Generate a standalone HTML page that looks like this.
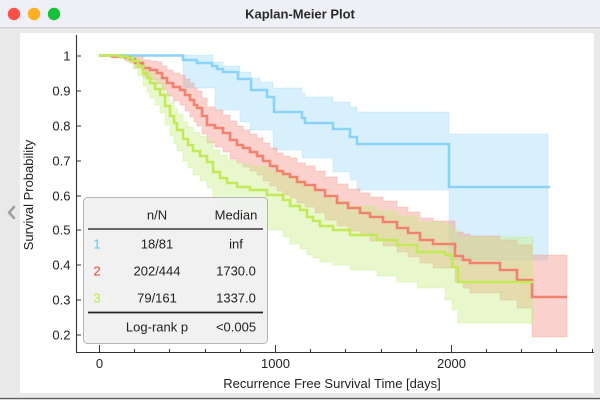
<!DOCTYPE html>
<html>
<head>
<meta charset="utf-8">
<style>
html,body{margin:0;padding:0;background:#ececec;}
svg{display:block;}
text{font-family:"Liberation Sans",Arial,sans-serif;}
</style>
</head>
<body>
<svg width="600" height="400" viewBox="0 0 600 400" xmlns="http://www.w3.org/2000/svg">
  <!-- window -->
  <rect x="0" y="0" width="600" height="400" fill="#e9e9e9"/>
  <rect x="0" y="0" width="600" height="27.5" fill="#eef0f5"/>
  <line x1="0" y1="27.8" x2="600" y2="27.8" stroke="#c6c6c6" stroke-width="1"/>
  <circle cx="14" cy="14" r="6.2" fill="#fe4f49"/>
  <circle cx="34" cy="14" r="6.2" fill="#fdb023"/>
  <circle cx="54" cy="14" r="6.2" fill="#17c139"/>
  <text x="300" y="18.5" text-anchor="middle" font-size="13" font-weight="bold" fill="#2a2a2a">Kaplan-Meier Plot</text>

  <!-- white panel -->
  <rect x="20" y="33" width="574" height="360" fill="#ffffff"/>
  <line x1="0" y1="398.5" x2="600" y2="398.5" stroke="#5a5a5a" stroke-width="1.2"/>

  <!-- left chevron -->
  <polyline points="14,207 9,212.5 14,218" fill="none" stroke="#a0a0a0" stroke-width="2.6" stroke-linecap="round" stroke-linejoin="round"/>

  <!-- bands -->
  <path d="M99,55 H213 V62 H223 V66 H240 V72 H251 V78 H260 V82 H273 V88 H302 V93 H305 V97 H333 V102 H350 V107 H357 V112 H449 V134 H548 V260 H449 V190 H357 V180 H350 V172 H333 V158 H302 V150 H273 V130 H250 V122 H240 V110 H215 V88 H183 V56 H99 Z" fill="#8fd3f7" fill-opacity="0.35" stroke="#8fd3f7" stroke-opacity="0.25" stroke-width="1"/>

  <path d="M99,55 H112 V54.5 H125 V54.5 H130 V54.5 H135 V56 H143 V60 H150 V61 H157 V62 H162 V66 H167 V70 H173 V73 H180 V75 H185 V79 H190 V83 H194 V88 H197 V91 H202 V98 H207 V107 H215 V110 H223 V115 H230 V121 H237 V126 H243 V130 H250 V134 H257 V138 H263 V143 H270 V148 H277 V153 H283 V156 H290 V158 H297 V163 H305 V166 H315 V171 H325 V177 H337 V184 H348 V189 H360 V193 H370 V197 H383 V201 H397 V207 H408 V212 H420 V218 H433 V221 H455 V232 H463 V234 H470 V236 H500 V240 H517 V245 H532 V255 H567 V337 H532 V308 H517 V300 H500 V293 H470 V288 H463 V282 H455 V268 H433 V263 H420 V257 H408 V252 H397 V246 H383 V241 H370 V236 H360 V231 H348 V226 H337 V220 H325 V213 H315 V207 H305 V203 H297 V198 H290 V195 H283 V191 H277 V186 H270 V181 H263 V175 H257 V171 H250 V167 H243 V163 H237 V159 H230 V152 H223 V147 H215 V143 H207 V134 H202 V126 H197 V122 H194 V117 H190 V111 H185 V105 H180 V101 H173 V96 H167 V90 H162 V84 H157 V80 H150 V77 H143 V68 H135 V63 H130 V61 H125 V58 H112 V56 H99 Z" fill="#f39a90" fill-opacity="0.45" stroke="#f39a90" stroke-opacity="0.35" stroke-width="1"/>

  <path d="M99,55 H120 V55.5 H128 V56 H133 V57 H138 V60 H143 V65 H147 V69 H150 V73 H155 V78 H160 V83 H165 V93 H170 V102 H174 V108 H177 V114 H183 V122 H188 V127 H193 V132 H200 V136 H207 V141 H213 V150 H220 V155 H227 V160 H237 V164 H250 V166 H267 V170 H283 V174 H290 V179 H300 V182 H307 V188 H313 V192 H320 V197 H333 V201 H350 V206 H377 V211 H397 V216 H417 V222 H445 V225 H452 V230 H458 V237 H533 V323 H458 V310 H452 V300 H445 V288 H417 V282 H397 V276 H377 V270 H350 V265 H333 V262 H320 V258 H313 V255 H307 V249 H300 V244 H290 V237 H283 V230 H267 V222 H250 V214 H237 V209 H227 V204 H220 V198 H213 V188 H207 V181 H200 V175 H193 V168 H188 V161 H183 V151 H177 V144 H174 V136 H170 V125 H165 V113 H160 V105 H155 V98 H150 V92 H147 V86 H143 V76 H138 V69 H133 V63 H128 V58.5 H120 V56 H99 Z" fill="#c6ee80" fill-opacity="0.4" stroke="#c6ee80" stroke-opacity="0.35" stroke-width="1"/>

  <!-- lines -->
  <path d="M99,55.5 H183 V60 H197 V63 H212 V66 H217 V69 H223 V72 H238 V79 H251 V90 H267 V97 H274 V112 H302 V118 H305 V123 H333 V129 H350 V137 H357 V144 H449 V187 H550" fill="none" stroke="#8ad3f7" stroke-width="2.6"/>
  <path d="M99,55.5 H112 V56.5 H125 V57.5 H130 V59 H135 V63 H143 V68 H150 V70 H157 V73 H162 V78 H167 V83 H173 V87 H180 V90 H185 V95 H190 V100 H194 V105 H197 V108 H202 V116 H207 V125 H215 V128 H223 V133 H230 V140 H237 V145 H243 V148 H250 V152 H257 V156 H263 V161 H270 V166 H277 V171 H283 V174 H290 V177 H297 V182 H305 V185 H315 V190 H325 V196 H337 V203 H348 V208 H360 V213 H370 V217 H383 V222 H397 V228 H408 V233 H420 V240 H433 V244 H455 V256 H463 V260 H470 V263 H500 V270 H517 V280 H532 V297 H567" fill="none" stroke="#f0826e" stroke-width="2.6"/>
  <path d="M99,55.5 H120 V56.5 H128 V58 H133 V61 H138 V66 H143 V73 H147 V78 H150 V83 H155 V89 H160 V95 H165 V106 H170 V116 H174 V123 H177 V130 H183 V139 H188 V145 H193 V151 H200 V156 H207 V162 H213 V172 H220 V178 H227 V183 H237 V187 H250 V190 H267 V195 H283 V200 H290 V206 H300 V210 H307 V217 H313 V221 H320 V226 H333 V230 H350 V235 H377 V240 H397 V245 H417 V252 H445 V255 H452 V267 H458 V282 H533" fill="none" stroke="#c2ea58" stroke-width="2.6"/>

  <!-- axes -->
  <line x1="76.5" y1="35" x2="76.5" y2="352.5" stroke="#333" stroke-width="1.1"/>
  <line x1="76" y1="352.5" x2="594" y2="352.5" stroke="#333" stroke-width="1.1"/>
  <g stroke="#333" stroke-width="1">
    <line x1="76.5" y1="56" x2="81" y2="56"/>
    <line x1="76.5" y1="91" x2="81" y2="91"/>
    <line x1="76.5" y1="126" x2="81" y2="126"/>
    <line x1="76.5" y1="161" x2="81" y2="161"/>
    <line x1="76.5" y1="196" x2="81" y2="196"/>
    <line x1="76.5" y1="230" x2="81" y2="230"/>
    <line x1="76.5" y1="265" x2="81" y2="265"/>
    <line x1="76.5" y1="300" x2="81" y2="300"/>
    <line x1="76.5" y1="335" x2="81" y2="335"/>
    <line x1="99.5" y1="352" x2="99.5" y2="345"/>
    <line x1="275.5" y1="352" x2="275.5" y2="345"/>
    <line x1="451.5" y1="352" x2="451.5" y2="345"/>
    <line x1="134.5" y1="352" x2="134.5" y2="349"/>
    <line x1="169.5" y1="352" x2="169.5" y2="349"/>
    <line x1="205.5" y1="352" x2="205.5" y2="349"/>
    <line x1="240.5" y1="352" x2="240.5" y2="349"/>
    <line x1="310.5" y1="352" x2="310.5" y2="349"/>
    <line x1="345.5" y1="352" x2="345.5" y2="349"/>
    <line x1="381.5" y1="352" x2="381.5" y2="349"/>
    <line x1="416.5" y1="352" x2="416.5" y2="349"/>
    <line x1="486.5" y1="352" x2="486.5" y2="349"/>
    <line x1="521.5" y1="352" x2="521.5" y2="349"/>
    <line x1="556.5" y1="352" x2="556.5" y2="349"/>
    <line x1="592.5" y1="352" x2="592.5" y2="349"/>
  </g>
  <g font-size="13" fill="#222" text-anchor="end">
    <text x="70.5" y="60.5">1</text>
    <text x="70.5" y="95.5">0.9</text>
    <text x="70.5" y="130.5">0.8</text>
    <text x="70.5" y="165.5">0.7</text>
    <text x="70.5" y="200.5">0.6</text>
    <text x="70.5" y="234.5">0.5</text>
    <text x="70.5" y="269.5">0.4</text>
    <text x="70.5" y="304.5">0.3</text>
    <text x="70.5" y="339.5">0.2</text>
  </g>
  <g font-size="13" fill="#222" text-anchor="middle">
    <text x="99.5" y="368">0</text>
    <text x="275.5" y="368">1000</text>
    <text x="451.5" y="368">2000</text>
    <text x="332" y="388">Recurrence Free Survival Time [days]</text>
  </g>
  <text x="0" y="0" font-size="13" fill="#222" text-anchor="middle" transform="translate(33,195) rotate(-90)">Survival Probability</text>

  <!-- legend -->
  <rect x="83.5" y="197.5" width="184" height="146" rx="4" ry="4" fill="#f0f0f0" fill-opacity="0.9" stroke="#b4b4b4" stroke-width="1"/>
  <line x1="88" y1="229" x2="263" y2="229" stroke="#555" stroke-width="1.8"/>
  <line x1="88" y1="312.5" x2="263" y2="312.5" stroke="#222" stroke-width="1.8"/>
  <g font-size="13" fill="#222" text-anchor="middle">
    <text x="157" y="219.5">n/N</text>
    <text x="236" y="219.5">Median</text>
    <text x="97" y="248.5" fill="#5cc4f7">1</text>
    <text x="157" y="248.5">18/81</text>
    <text x="236" y="248.5">inf</text>
    <text x="97" y="275.5" fill="#f5443a">2</text>
    <text x="157" y="275.5">202/444</text>
    <text x="236" y="275.5">1730.0</text>
    <text x="97" y="302.5" fill="#b6ec3e">3</text>
    <text x="157" y="302.5">79/161</text>
    <text x="236" y="302.5">1337.0</text>
    <text x="157" y="331.5">Log-rank p</text>
    <text x="236" y="331.5">&lt;0.005</text>
  </g>
</svg>
</body>
</html>
